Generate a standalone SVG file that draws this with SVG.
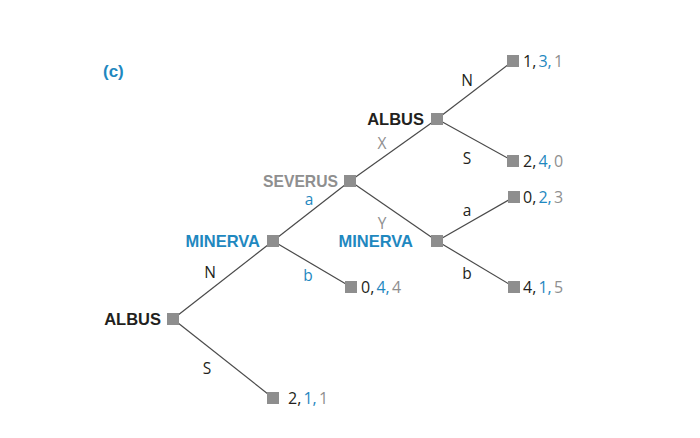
<svg xmlns="http://www.w3.org/2000/svg" width="700" height="438" viewBox="0 0 700 438">
<style>
.bg{fill:#fff}
.edge{stroke:#4a4a4a;stroke-width:1.2;fill:none}
.sq{fill:#8e8e8e}
.pl{font-family:"Liberation Sans",Arial,sans-serif;font-weight:bold;font-size:16.5px;text-anchor:end}
.lab{font-family:"Open Sans","Liberation Sans",sans-serif;font-size:15.5px;text-anchor:middle}
.pay{font-family:"Open Sans","Liberation Sans",sans-serif;font-size:16px;word-spacing:-2px}
.k{fill:#231f20}
.b{fill:#1f88bf}
.g{fill:#8f8f8f}
</style>
<rect class="bg" x="0" y="0" width="700" height="438"/>
<text x="103" y="77" font-family="Liberation Sans,Arial,sans-serif" font-weight="bold" font-size="17" class="b">(c)</text>
<g id="connectors">
<line class="edge" x1="173" y1="319" x2="273" y2="241"/>
<line class="edge" x1="173" y1="319" x2="273" y2="398"/>
<line class="edge" x1="273" y1="241" x2="350" y2="181"/>
<line class="edge" x1="273" y1="241" x2="351" y2="287"/>
<line class="edge" x1="350" y1="181" x2="437" y2="119"/>
<line class="edge" x1="350" y1="181" x2="437" y2="241"/>
<line class="edge" x1="437" y1="119" x2="513" y2="61"/>
<line class="edge" x1="437" y1="119" x2="513" y2="161"/>
<line class="edge" x1="437" y1="241" x2="514" y2="197"/>
<line class="edge" x1="437" y1="241" x2="514" y2="287"/>
<text class="lab k" x="210" y="278">N</text>
<text class="lab k" x="207" y="374">S</text>
<text class="lab b" x="309" y="205">a</text>
<text class="lab b" x="308" y="281">b</text>
<text class="lab g" x="382" y="149">X</text>
<text class="lab g" x="382" y="229">Y</text>
<text class="lab k" x="467" y="86">N</text>
<text class="lab k" x="467" y="164">S</text>
<text class="lab k" x="467" y="216">a</text>
<text class="lab k" x="467" y="279">b</text>
</g>
<g id="albus-root">
<rect class="sq" x="167" y="313" width="12" height="12"/>
<text class="pl k" x="161" y="325">ALBUS</text>
</g>
<g id="minerva-left">
<rect class="sq" x="267" y="235" width="12" height="12"/>
<text class="pl b" x="260" y="247">MINERVA</text>
</g>
<g id="severus">
<rect class="sq" x="344" y="175" width="12" height="12"/>
<text class="pl g" x="338" y="187" textLength="75" lengthAdjust="spacingAndGlyphs">SEVERUS</text>
</g>
<g id="albus-top">
<rect class="sq" x="431" y="113" width="12" height="12"/>
<text class="pl k" x="424" y="125">ALBUS</text>
</g>
<g id="minerva-right">
<rect class="sq" x="431" y="235" width="12" height="12"/>
<text class="pl b" x="413" y="247">MINERVA</text>
</g>
<g id="leaf-131">
<rect class="sq" x="507" y="55" width="12" height="12"/>
<text class="pay" x="523" y="67"><tspan class="k">1, </tspan><tspan class="b">3, </tspan><tspan class="g">1</tspan></text>
</g>
<g id="leaf-240">
<rect class="sq" x="507" y="155" width="12" height="12"/>
<text class="pay" x="523" y="167"><tspan class="k">2, </tspan><tspan class="b">4, </tspan><tspan class="g">0</tspan></text>
</g>
<g id="leaf-023">
<rect class="sq" x="508" y="191" width="12" height="12"/>
<text class="pay" x="523" y="203"><tspan class="k">0, </tspan><tspan class="b">2, </tspan><tspan class="g">3</tspan></text>
</g>
<g id="leaf-415">
<rect class="sq" x="508" y="281" width="12" height="12"/>
<text class="pay" x="523" y="293"><tspan class="k">4, </tspan><tspan class="b">1, </tspan><tspan class="g">5</tspan></text>
</g>
<g id="leaf-044">
<rect class="sq" x="345" y="281" width="12" height="12"/>
<text class="pay" x="361" y="293"><tspan class="k">0, </tspan><tspan class="b">4, </tspan><tspan class="g">4</tspan></text>
</g>
<g id="leaf-211">
<rect class="sq" x="267" y="392" width="12" height="12"/>
<text class="pay" x="288" y="404"><tspan class="k">2, </tspan><tspan class="b">1, </tspan><tspan class="g">1</tspan></text>
</g>
</svg>
